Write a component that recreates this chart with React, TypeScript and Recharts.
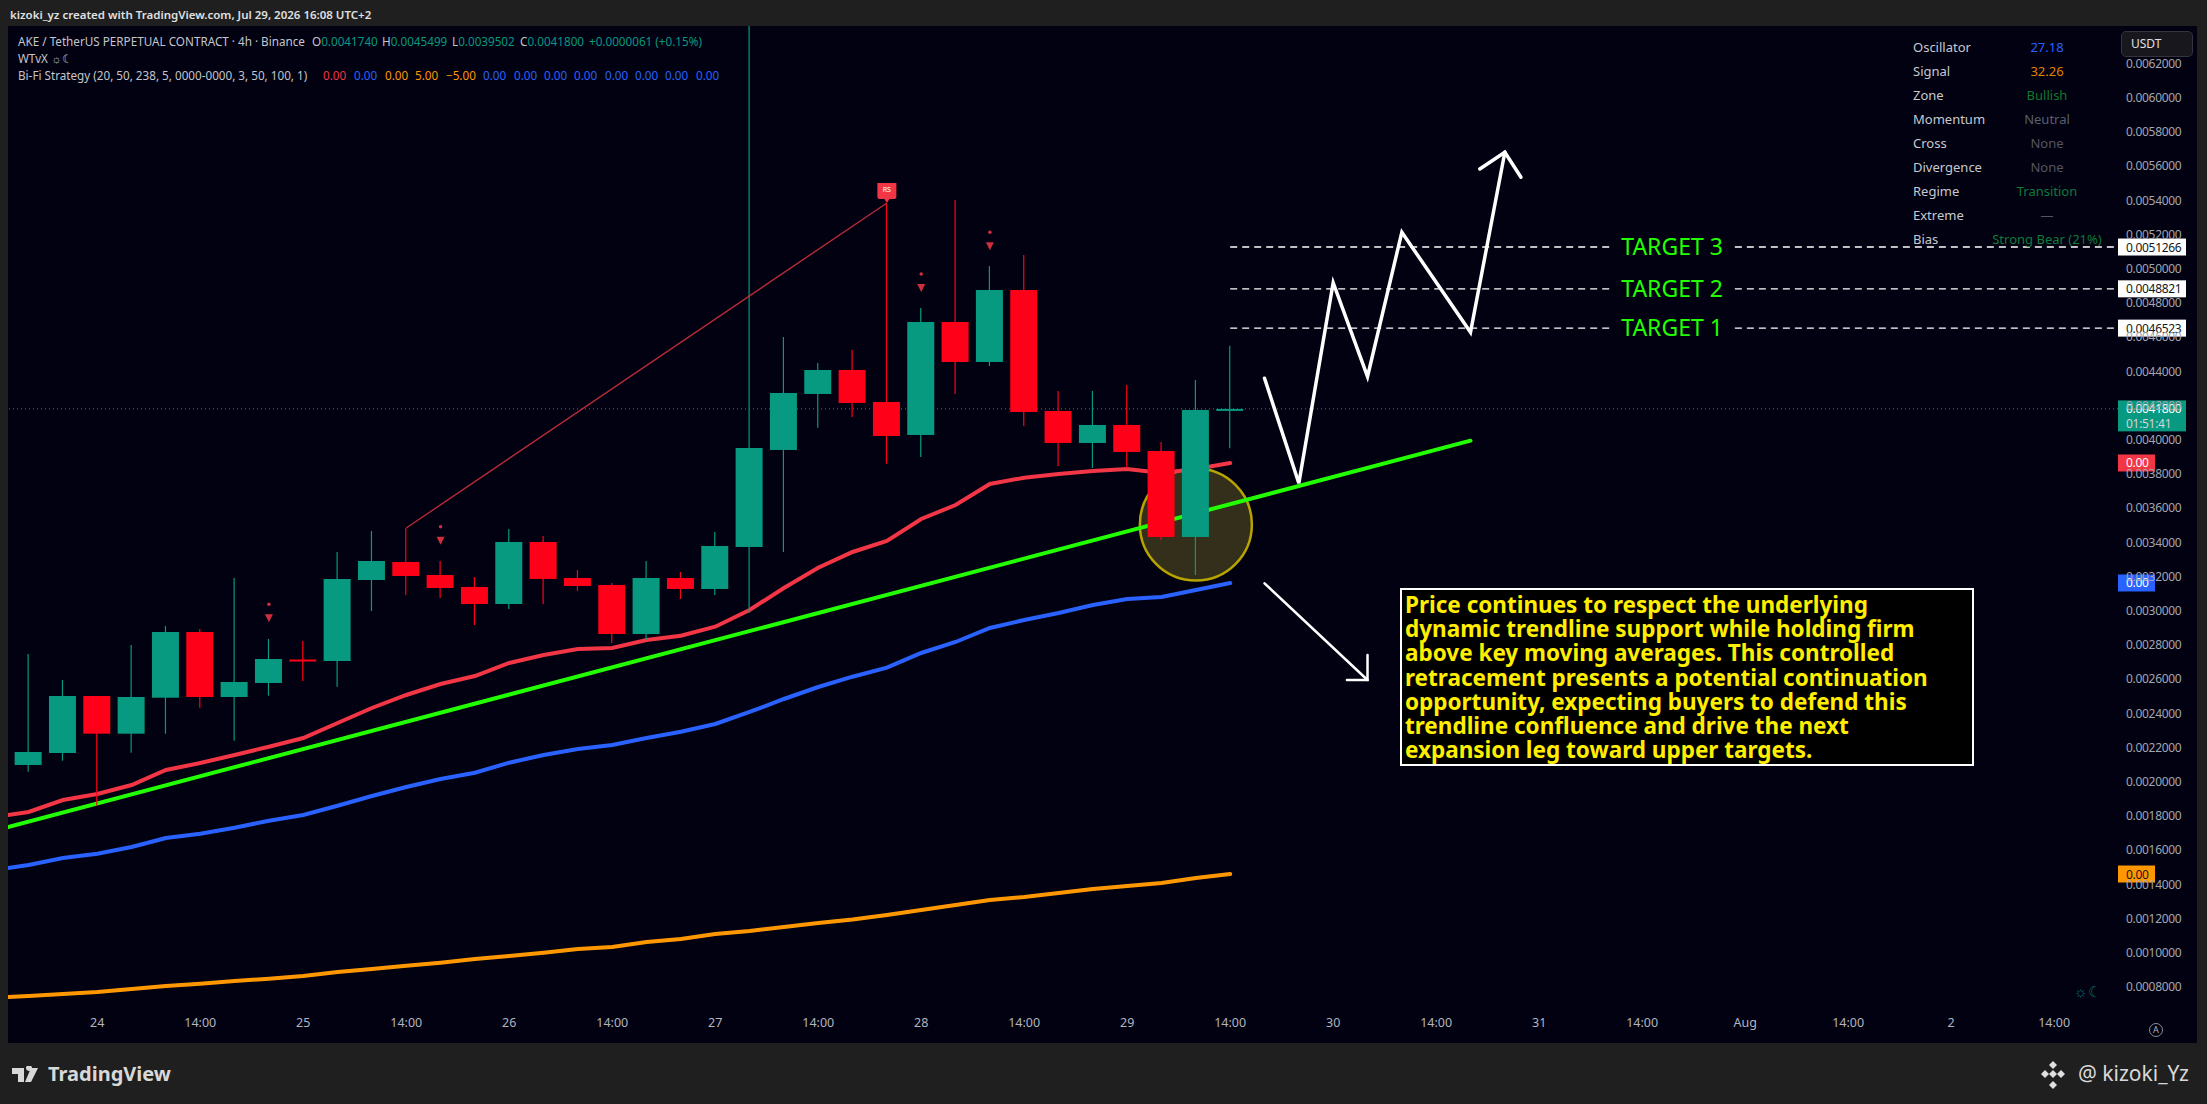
import {
  Bar,
  ComposedChart,
  Line,
  ReferenceDot,
  ReferenceLine,
  XAxis,
  YAxis,
} from "recharts";

// candles, one 4h bar per slot
const candleIndex = [-0.6, 0, 1, 2, 3, 4, 5, 6, 7, 8, 9, 10, 11, 12, 13, 14, 15, 16, 17, 18, 19, 20, 21, 22, 23, 24, 25, 26, 27, 28, 29, 30, 31, 32, 33, 34, 35];
const opens = [null, 0.0020977, 0.0021678, 0.0025012, 0.0022807, 0.0024912, 0.0028754, 0.0024953, 0.0025772, 0.0027146, 0.0027058, 0.0031795, 0.0032848, 0.0032088, 0.0031386, 0.0030392, 0.0034018, 0.0031912, 0.0031503, 0.0028637, 0.0031912, 0.0031269, 0.0033725, 0.0039398, 0.0042673, 0.0044076, 0.0042205, 0.0040275, 0.0046883, 0.0044544, 0.0048754, 0.0041678, 0.0039807, 0.0040860, 0.0039339, 0.0034310, 0.0041740];
const highs = [null, 0.0027468, 0.0025947, 0.0025012, 0.0027994, 0.0029105, 0.0028930, 0.0031912, 0.0028345, 0.0028228, 0.0033433, 0.0034661, 0.0034836, 0.0032906, 0.0031971, 0.0034778, 0.0034368, 0.0032380, 0.0031620, 0.0032906, 0.0032263, 0.0034602, 0.00642, 0.0046006, 0.0044485, 0.0045246, 0.0053842, 0.0047702, 0.0054018, 0.0050158, 0.0050801, 0.0042848, 0.0042848, 0.0043199, 0.0039866, 0.0043491, 0.0045499];
const lows = [null, 0.0020585, 0.0021228, 0.0018596, 0.0021696, 0.0022807, 0.0024327, 0.0022398, 0.0025029, 0.0025889, 0.0025556, 0.0029982, 0.0030918, 0.0030743, 0.0029164, 0.0030099, 0.0030392, 0.0031152, 0.0028111, 0.0028287, 0.0030684, 0.0030918, 0.0029883, 0.0033433, 0.0040702, 0.0041328, 0.0038597, 0.0038988, 0.0042673, 0.0044310, 0.0040801, 0.0038462, 0.0038345, 0.0038345, 0.0034134, 0.0032088, 0.0039502];
const closes = [null, 0.0021737, 0.0025012, 0.0022807, 0.0024953, 0.0028754, 0.0024953, 0.0025830, 0.0027175, 0.0027088, 0.0031854, 0.0032906, 0.0032029, 0.0031327, 0.0030392, 0.0034018, 0.0031854, 0.0031444, 0.0028637, 0.0031912, 0.0031269, 0.0033784, 0.0039515, 0.0042731, 0.0044076, 0.0042146, 0.0040216, 0.0046883, 0.0044544, 0.0048754, 0.0041620, 0.0039807, 0.0040860, 0.0039281, 0.0034310, 0.0041737, 0.0041800];

// moving averages from the strategy
const emaFast = [0.0018053, 0.0018228, 0.0018930, 0.0019281, 0.0019807, 0.0020684, 0.0021093, 0.0021561, 0.0022047, 0.0022555, 0.0023433, 0.0024310, 0.0025070, 0.0025713, 0.0026181, 0.0026941, 0.0027409, 0.0027760, 0.0027819, 0.0028287, 0.0028538, 0.0029064, 0.0030041, 0.0031327, 0.0032515, 0.0033433, 0.0034076, 0.0035363, 0.0036181, 0.0037409, 0.0037778, 0.0037994, 0.0038170, 0.0038287, 0.0038053, 0.0038287, 0.0038637];
const emaMid = [0.0014953, 0.0015129, 0.0015538, 0.0015789, 0.0016181, 0.0016708, 0.0016959, 0.0017310, 0.0017719, 0.0018053, 0.0018596, 0.0019164, 0.0019690, 0.0020158, 0.0020526, 0.0021111, 0.0021561, 0.0021912, 0.0022146, 0.0022555, 0.0022924, 0.0023374, 0.0024076, 0.0024836, 0.0025538, 0.0026140, 0.0026667, 0.0027526, 0.0028170, 0.0028988, 0.0029456, 0.0029865, 0.0030333, 0.0030684, 0.0030801, 0.0031211, 0.0031620];
const emaSlow = [0.0007409, 0.0007468, 0.0007585, 0.0007702, 0.0007877, 0.0008053, 0.0008187, 0.0008345, 0.0008479, 0.0008637, 0.0008871, 0.0009047, 0.0009240, 0.0009415, 0.0009631, 0.0009807, 0.0010000, 0.0010216, 0.0010333, 0.0010626, 0.0010801, 0.0011094, 0.0011269, 0.0011503, 0.0011737, 0.0011941, 0.0012205, 0.0012497, 0.0012789, 0.0013082, 0.0013257, 0.0013491, 0.0013725, 0.0013900, 0.0014076, 0.0014368, 0.0014602];

// axes
const priceTicks = [0.0008, 0.001, 0.0012, 0.0014, 0.0016, 0.0018, 0.002, 0.0022, 0.0024, 0.0026, 0.0028, 0.003, 0.0032, 0.0034, 0.0036, 0.0038, 0.004, 0.0042, 0.0044, 0.0046, 0.0048, 0.005, 0.0052, 0.0054, 0.0056, 0.0058, 0.006, 0.0062];
const timeTicks = [2, 5, 8, 11, 14, 17, 20, 23, 26, 29, 32, 35, 38, 41, 44, 47, 50, 53, 56, 59];
const timeLabels = ["24", "14:00", "25", "14:00", "26", "14:00", "27", "14:00", "28", "14:00", "29", "14:00", "30", "14:00", "31", "14:00", "Aug", "14:00", "2", "14:00"];

// drawings on the chart
const lastPrice = 0.00418;
const trendX = [-0.6, 42];
const trendP = [0.0017351, 0.0039942];
const wedgeX = [11, 25];
const wedgeP = [0.0034836, 0.0053842];
const zigzagX = [36, 37, 38, 39, 40, 42, 43];
const zigzagP = [0.0043591, 0.0037450, 0.0049181, 0.0043684, 0.0052129, 0.0046281, 0.0056807];
const headUpX = [42.27, 43, 43.47];
const headUpP = [0.0055831, 0.0056807, 0.0055345];
const fallX = [36, 39];
const fallP = [0.0031602, 0.0025947];
const fallHeadX = [38.4, 39, 39];
const fallHeadP = [0.0025947, 0.0025947, 0.0027409];
const circleAt = { i: 34, p: 0.0035041 };
const targetPrices = [0.0046523, 0.0048821, 0.0051266];
const targetNames = ["TARGET 1", "TARGET 2", "TARGET 3"];
const signalX = [7, 12, 26, 28];
const signalP = [0.0030374, 0.0034912, 0.0049690, 0.0052129];

// texts around the chart
const legendRow = "AKE / TetherUS PERPETUAL CONTRACT · 4h · Binance";
const ohlcLabels = ["O", "H", "L", "C"];
const ohlcValues = ["0.0041740", "0.0045499", "0.0039502", "0.0041800"];
const stratName = "Bi-Fi Strategy (20, 50, 238, 5, 0000-0000, 3, 50, 100, 1)";
const stratValues = ["0.00", "0.00", "0.00", "5.00", "−5.00", "0.00", "0.00", "0.00", "0.00", "0.00", "0.00", "0.00", "0.00"];
const tableLabels = ["Oscillator", "Signal", "Zone", "Momentum", "Cross", "Divergence", "Regime", "Extreme", "Bias"];
const tableValues = ["27.18", "32.26", "Bullish", "Neutral", "None", "None", "Transition", "—", "Strong Bear (21%)"];
const noteLines = [
  "Price continues to respect the underlying",
  "dynamic trendline support while holding firm",
  "above key moving averages. This controlled",
  "retracement presents a potential continuation",
  "opportunity, expecting buyers to defend this",
  "trendline confluence and drive the next",
  "expansion leg toward upper targets.",
];

const UP = "#089981";
const DOWN = "#ff0019";
const RED = "#f23645";
const BLUE = "#2962ff";
const ORANGE = "#ff9800";
const LIME = "#22ff00";
const FONT = "'Noto Sans', sans-serif";
const X_MAX = 60.86;
const BODY = 27;

const rows = candleIndex.map((i, n) => ({
  i,
  open: opens[n],
  high: highs[n],
  low: lows[n],
  close: closes[n],
  fast: emaFast[n],
  mid: emaMid[n],
  slow: emaSlow[n],
}));

const path = (xs: number[], ps: number[]) => xs.map((i, n) => ({ i, p: ps[n] }));

function Candle(props: any) {
  const { x, y, width, height, payload } = props;
  if (payload.high == null) return null;
  const span = payload.high - payload.low;
  const py = (v: number) => y + ((payload.high - v) / span) * height;
  const color = payload.close >= payload.open ? UP : DOWN;
  const top = py(Math.max(payload.open, payload.close));
  const bottom = py(Math.min(payload.open, payload.close));
  const cx = x + width / 2;
  return (
    <g>
      <line x1={cx} x2={cx} y1={y} y2={y + height} stroke={color} strokeWidth={1.2} />
      <rect x={cx - BODY / 2} y={top} width={BODY} height={Math.max(bottom - top, 2)} fill={color} />
    </g>
  );
}

function SignalMark({ cx, cy }: any) {
  return (
    <g fill={RED} fillOpacity={0.85}>
      <circle cx={cx} cy={cy} r={1.8} />
      <path d={`M${cx - 4} ${cy + 10}H${cx + 4}L${cx} ${cy + 18}Z`} />
    </g>
  );
}

function RsPin({ cx, cy }: any) {
  return (
    <g>
      <path d={`M${cx - 9.5} ${cy - 20}h19v14a2 2 0 0 1 -2 2h-5l-2.5 4l-2.5 -4h-5a2 2 0 0 1 -2 -2z`} fill={RED} />
      <text x={cx} y={cy - 10.5} textAnchor="middle" fontSize={7} fontFamily={FONT} fill="#fff">RS</text>
    </g>
  );
}

// price tag sitting on the right scale
function tag(fill: string, color: string, text: string, width: number, clock?: string) {
  return ({ cx, cy }: any) => (
    <g fontFamily={FONT} fontSize={12} letterSpacing={-0.3}>
      <rect x={cx} y={cy - 8.5} width={width} height={clock ? 31 : 17} fill={fill} />
      <text x={cx + 8} y={cy + 4.5} fill={color}>{text}</text>
      {clock && <text x={cx + 8} y={cy + 19.5} fill="#d5d5d5">{clock}</text>}
    </g>
  );
}

const abs = (left: number, top: number, extra: any = {}) => ({
  position: "absolute" as const,
  left,
  top,
  whiteSpace: "pre" as const,
  lineHeight: 1,
  ...extra,
});

export default function App() {
  return (
    <div style={{ position: "absolute", left: 0, top: 0, width: 2207, height: 1104, background: "#1f1f1f", overflow: "hidden", fontFamily: FONT }}>
      <div style={{ position: "absolute", left: 8, top: 26, width: 2189, height: 1017, background: "#010112" }} />

      <ComposedChart
        width={2207}
        height={1104}
        data={rows}
        margin={{ top: 26, right: 10, bottom: 61, left: 8 }}
        style={{ position: "absolute", left: 0, top: 0 }}
      >
        <XAxis
          dataKey="i"
          type="number"
          domain={[-0.6, X_MAX]}
          allowDataOverflow
          ticks={timeTicks}
          interval={0}
          height={33}
          axisLine={false}
          tickLine={false}
          tickFormatter={(v: number) => timeLabels[timeTicks.indexOf(v)]}
          tick={{ fill: "#b2b5be", fontSize: 12.5, fontFamily: FONT }}
        />
        <YAxis
          type="number"
          orientation="right"
          domain={[0.000665, 0.006419]}
          allowDataOverflow
          ticks={priceTicks}
          interval={0}
          width={79}
          axisLine={false}
          tickLine={false}
          tickFormatter={(v: number) => v.toFixed(7)}
          tick={{ fill: "#a3a6af", fontSize: 12, fontFamily: FONT, letterSpacing: -0.3 }}
        />

        <ReferenceLine y={lastPrice} stroke={UP} strokeWidth={1} strokeDasharray="1 3" zIndex={10} />
        <ReferenceDot x={circleAt.i} y={circleAt.p} r={56} fill="#ffeb3b" fillOpacity={0.2} stroke="#b8a400" strokeWidth={2.5} zIndex={20} />

        <Line data={path(trendX, trendP)} dataKey="p" stroke={LIME} strokeWidth={4} strokeLinecap="round" dot={false} activeDot={false} isAnimationActive={false} zIndex={30} />
        <Line dataKey="fast" stroke={RED} strokeWidth={4} strokeLinecap="round" dot={false} activeDot={false} isAnimationActive={false} zIndex={31} />
        <Line dataKey="mid" stroke={BLUE} strokeWidth={4} strokeLinecap="round" dot={false} activeDot={false} isAnimationActive={false} zIndex={32} />
        <Line dataKey="slow" stroke={ORANGE} strokeWidth={4} strokeLinecap="round" dot={false} activeDot={false} isAnimationActive={false} zIndex={33} />

        <Bar dataKey={(d: any) => (d.high == null ? null : [d.low, d.high])} barSize={27} shape={Candle} isAnimationActive={false} zIndex={40} />

        <Line data={path(wedgeX, wedgeP)} dataKey="p" stroke="#b82a38" strokeWidth={1.4} dot={false} activeDot={false} isAnimationActive={false} zIndex={50} />
        {signalX.map((x, n) => (
          <ReferenceDot key={x} x={x} y={signalP[n]} shape={SignalMark} zIndex={51} />
        ))}
        <ReferenceDot x={wedgeX[1]} y={wedgeP[1]} shape={RsPin} zIndex={52} />

        {targetPrices.map((p) => (
          <ReferenceLine key={p} segment={[{ x: 35, y: p }, { x: 46.08, y: p }]} stroke="#fff" strokeWidth={1.4} strokeDasharray="7 5" zIndex={60} />
        ))}
        {targetPrices.map((p) => (
          <ReferenceLine key={p} segment={[{ x: 49.7, y: p }, { x: X_MAX, y: p }]} stroke="#fff" strokeWidth={1.4} strokeDasharray="7 5" zIndex={60} />
        ))}
        {targetPrices.map((p, n) => (
          <ReferenceDot
            key={p}
            x={47.87}
            y={p}
            r={0}
            stroke="none"
            label={{ value: targetNames[n], position: "center", fill: LIME, fontSize: 23, fontFamily: FONT }}
            zIndex={61}
          />
        ))}

        <Line data={path(zigzagX, zigzagP)} dataKey="p" stroke="#fff" strokeWidth={3.5} strokeLinecap="round" strokeLinejoin="miter" dot={false} activeDot={false} isAnimationActive={false} zIndex={70} />
        <Line data={path(headUpX, headUpP)} dataKey="p" stroke="#fff" strokeWidth={3.5} strokeLinecap="round" dot={false} activeDot={false} isAnimationActive={false} zIndex={71} />
        <Line data={path(fallX, fallP)} dataKey="p" stroke="#fff" strokeWidth={2.5} strokeLinecap="round" dot={false} activeDot={false} isAnimationActive={false} zIndex={72} />
        <Line data={path(fallHeadX, fallHeadP)} dataKey="p" stroke="#fff" strokeWidth={2.5} strokeLinecap="round" dot={false} activeDot={false} isAnimationActive={false} zIndex={73} />

        {targetPrices.map((p) => (
          <ReferenceDot key={p} x={X_MAX} y={p} ifOverflow="visible" shape={tag("#fff", "#131722", p.toFixed(7), 68)} zIndex={900} />
        ))}
        <ReferenceDot x={X_MAX} y={lastPrice} ifOverflow="visible" shape={tag(UP, "#fff", lastPrice.toFixed(7), 68, "01:51:41")} zIndex={900} />
        <ReferenceDot x={X_MAX} y={emaFast[36]} ifOverflow="visible" shape={tag(RED, "#fff", "0.00", 37)} zIndex={900} />
        <ReferenceDot x={X_MAX} y={emaMid[36]} ifOverflow="visible" shape={tag(BLUE, "#fff", "0.00", 37)} zIndex={900} />
        <ReferenceDot x={X_MAX} y={emaSlow[36]} ifOverflow="visible" shape={tag(ORANGE, "#131722", "0.00", 37)} zIndex={900} />
      </ComposedChart>

      {/* header and legend */}
      <div style={abs(10, 9, { color: "#e0e0e0", fontSize: 11.5, fontWeight: 600 })}>kizoki_yz created with TradingView.com, Jul 29, 2026 16:08 UTC+2</div>
      <div style={abs(18, 36, { color: "#c4c6cc", fontSize: 11.7 })}>{legendRow}</div>
      {ohlcLabels.map((l, n) => (
        <div key={l} style={abs([312, 382, 452, 520][n], 36, { fontSize: 11.7, color: "#c4c6cc" })}>
          {l}
          <span style={{ color: UP }}>{ohlcValues[n]}</span>
        </div>
      ))}
      <div style={abs(589, 36, { fontSize: 11.7, color: UP })}>+0.0000061 (+0.15%)</div>
      <div style={abs(18, 53, { color: "#c4c6cc", fontSize: 11.7 })}>WTvX ☼☾</div>
      <div style={abs(18, 70, { color: "#c4c6cc", fontSize: 11.7 })}>{stratName}</div>
      {stratValues.map((v, n) => (
        <div
          key={n}
          style={abs([323, 354, 385, 415, 446, 483, 514, 544, 574, 605, 635, 665, 696][n], 70, {
            fontSize: 11.7,
            color: n === 0 ? RED : n >= 2 && n <= 4 ? ORANGE : BLUE,
          })}
        >
          {v}
        </div>
      ))}

      {/* status table */}
      {tableLabels.map((l, n) => (
        <div key={l} style={abs(1913, 41 + n * 24, { fontSize: 13, color: "#c8c9ce" })}>{l}</div>
      ))}
      {tableValues.map((v, n) => (
        <div
          key={n}
          style={abs(1947, 41 + n * 24, {
            width: 200,
            textAlign: "center",
            fontSize: 13,
            color: ["#2962ff", "#e08000", "#0f7a2c", "#5a5f6b", "#55555e", "#55555e", "#0f7a3a", "#55555e", "#0f7a3a"][n],
          })}
        >
          {v}
        </div>
      ))}

      <div style={abs(2121, 31, { width: 72, height: 26, boxSizing: "border-box", background: "#17171d", border: "1px solid #33343c", borderRadius: 5, color: "#e0e0e0", fontSize: 12, lineHeight: "24px", paddingLeft: 9 })}>USDT</div>

      {/* note box */}
      <div style={abs(1400, 588, { width: 574, height: 178, boxSizing: "border-box", background: "#000", border: "2px solid #fff" })} />
      {noteLines.map((line, n) => (
        <div key={n} style={abs(1405, 593 + n * 24.2, { color: "#ffee00", fontSize: 22.5, fontWeight: 700, lineHeight: "24px" })}>{line}</div>
      ))}

      <div style={abs(2074, 984, { color: "#0f6e66", fontSize: 15 })}>☼☾</div>
      <div style={abs(2149, 1023, { width: 14, height: 14, boxSizing: "border-box", border: "1px solid #8a8d96", borderRadius: "50%", color: "#b2b5be", fontSize: 9, lineHeight: "12px", textAlign: "center" })}>A</div>

      {/* footer */}
      <svg width={30} height={20} style={{ position: "absolute", left: 12, top: 1066 }}>
        <path d="M0 2H12V16H6V8H0ZM14 2a3 3 0 1 1 0 .01ZM19 2H26L19 16H13Z" fill="#d8d8d8" />
      </svg>
      <div style={abs(48, 1064, { color: "#d8d8d8", fontSize: 20, fontWeight: 700 })}>TradingView</div>
      <svg width={26} height={28} style={{ position: "absolute", left: 2040, top: 1061 }}>
        <path d="M13 0L17 4L13 8L9 4ZM5 9L9 13L5 17L1 13ZM21 9L25 13L21 17L17 13ZM13 9L17 13L13 17L9 13ZM13 20L17 24L13 28L9 24Z" fill="#e0e0e0" />
      </svg>
      <div style={abs(2078, 1063, { color: "#d8d8d8", fontSize: 21 })}>@ kizoki_Yz</div>
    </div>
  );
}
